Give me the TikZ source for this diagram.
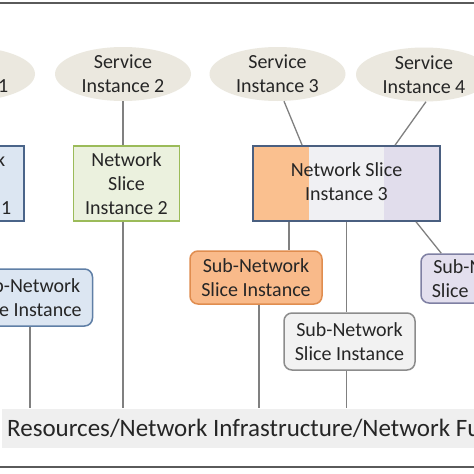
\documentclass[tikz,border=0pt]{standalone}
\usepackage{fontspec}
\setmainfont{Carlito}
\usetikzlibrary{shapes.geometric,calc}
\definecolor{ellfill}{HTML}{EBE8DF}
\definecolor{txt}{HTML}{262626}
\definecolor{linegray}{HTML}{808080}
\definecolor{framegray}{HTML}{5A5A5A}
\definecolor{bluefill}{HTML}{DCE6F2}
\definecolor{blueline}{HTML}{4A6489}
\definecolor{greenfill}{HTML}{EBF1DE}
\definecolor{greenline}{HTML}{9BBB59}
\definecolor{nsline}{HTML}{4A5F80}
\definecolor{nsorange}{HTML}{FAC08F}
\definecolor{nsmid}{HTML}{F0F0F3}
\definecolor{nslav}{HTML}{E1DDEC}
\definecolor{ofill}{HTML}{F9BA8A}
\definecolor{oline}{HTML}{E08D4F}
\definecolor{gfill}{HTML}{F2F2F2}
\definecolor{gline}{HTML}{8C8C8C}
\definecolor{lfill}{HTML}{E3DFEE}
\definecolor{lline}{HTML}{7F80A3}
\definecolor{bsline}{HTML}{5F7FA6}
\definecolor{bandfill}{HTML}{EFEFEF}
\begin{document}
\begin{tikzpicture}[x=1pt,y=-1pt,
  conn/.style={draw=linegray, line width=1.3pt},
  boxfont/.style={font=\fontsize{20}{24}\selectfont, text=txt},
  svc/.style={ellipse, fill=ellfill, minimum width=136pt, minimum height=54pt, inner sep=0pt, align=center, boxfont},
  nsbox/.style={rectangle, line width=1.8pt, minimum height=75pt, inner sep=0pt, align=center, boxfont},
  subnet/.style={rectangle, rounded corners=8pt, line width=1.5pt, inner sep=0pt, align=center, minimum width=131pt, boxfont},
  band/.style={rectangle, fill=bandfill, minimum height=39pt, inner xsep=5pt, inner ysep=0pt, anchor=west, font=\fontsize{25}{30}\selectfont, text=txt}]
\useasboundingbox (0,0) rectangle (474,474);
\fill[white] (0,0) rectangle (474,474);
\clip (0,0) rectangle (474,474);

% service instances
\node[svc] (si1) at (-33,74) {Service\\Instance 1};
\node[svc] (si2) at (123,74) {Service\\Instance 2};
\node[svc] (si3) at (277.5,74) {Service\\Instance 3};
\node[svc] (si4) at (424,74.5) {Service\\Instance 4};

% network slice instances
\node[nsbox, draw=blueline, fill=bluefill, minimum width=108pt] (nsi1) at (-30,183.5) {Network\\Slice\\Instance 1};
\node[nsbox, draw=greenline, fill=greenfill, minimum width=106pt] (nsi2) at (126.5,183.5) {Network\\Slice\\Instance 2};
\node[nsbox, draw=nsline, fill=nsmid, minimum width=187pt,
  path picture={
    \fill[nsorange] (path picture bounding box.north west) rectangle ([xshift=56pt]path picture bounding box.south west);
    \fill[nslav] ([xshift=-56pt]path picture bounding box.north east) rectangle (path picture bounding box.south east);
  }] (nsi3) at (346.5,183.5) {\raisebox{2pt}{\begin{tabular}{@{}c@{}}Network Slice\\Instance 3\end{tabular}}};

% sub-network slice instances
\node[subnet, draw=bsline, fill=bluefill, minimum height=57pt] (bsub) at (27,297.5) {Sub-Network\\Slice Instance};
\node[subnet, draw=oline, fill=ofill, minimum width=132pt, minimum height=53pt] (osub) at (256,277.5) {Sub-Network\\Slice Instance};
\node[subnet, draw=gline, fill=gfill, minimum height=57pt] (gsub) at (349.5,341.5) {Sub-Network\\Slice Instance};
\node[subnet, draw=lline, fill=lfill, minimum height=49pt] (lsub) at (486.5,278.5) {Sub-Network\\Slice Instance};

% resources band
\node[band] (res) at (2,428) {Resources/Network Infrastructure/Network Functions};

% connectors
\draw[conn] (si2.south) -- (si2.south |- nsi2.north);
\draw[conn] (si2.south |- nsi2.south) -- (si2.south |- res.north);
\draw[conn] ($(si3.south)+(6.5,0)$) -- ($(nsi3.north west)+(50,0)$);
\draw[conn] ($(si4.south)+(2,0)$) -- ($(nsi3.north west)+(143,0)$);
\coordinate (oa) at ($(nsi3.south west)+(37,0)$);
\draw[conn] (oa) -- (oa |- osub.north);
\draw[conn] (nsi3.south) -- (nsi3.south |- gsub.north);
\draw[conn] ($(nsi3.south west)+(164,0)$) -- ($(lsub.north west)+(21,0)$);
\coordinate (ob) at ($(osub.south)+(3,0)$);
\draw[conn] (ob) -- (ob |- res.north);
\draw[conn] (nsi3.south |- gsub.south) -- (nsi3.south |- res.north);
\coordinate (bb) at ($(bsub.south)+(3,0)$);
\draw[conn] (bb) -- (bb |- res.north);

% frame lines
\draw[framegray, line width=1.5pt] (-5,3) coordinate (ftl) -- (480,3) coordinate (ftr);
\draw[framegray, line width=1.5pt] (-5,467) coordinate (fbl) -- (480,467) coordinate (fbr);
\end{tikzpicture}
\end{document}
